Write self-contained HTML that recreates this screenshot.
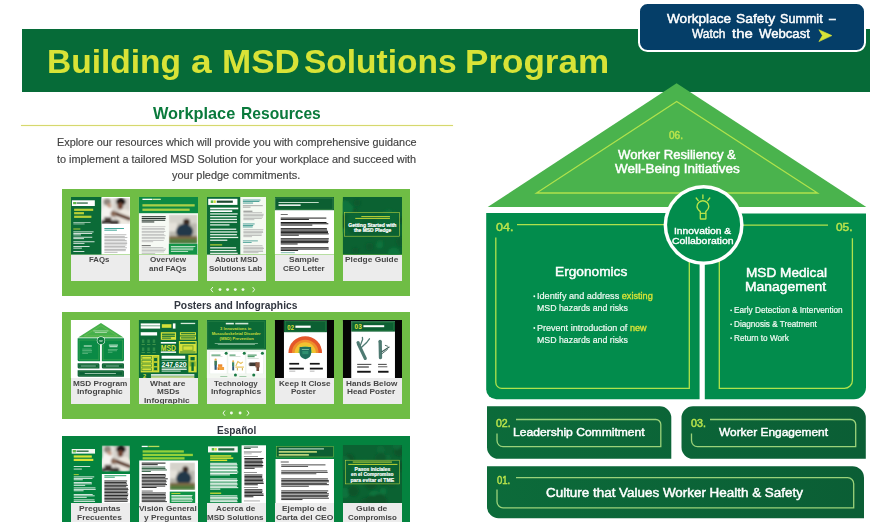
<!DOCTYPE html>
<html lang="en"><head><meta charset="utf-8"><title>Building a MSD Solutions Program</title>
<style>
html,body{margin:0;padding:0;background:#fff;}
body{width:870px;height:522px;overflow:hidden;font-family:"Liberation Sans",sans-serif;}
#page{position:relative;width:870px;height:522px;overflow:hidden;background:#fff;}
.t{position:absolute;white-space:nowrap;margin:0;padding:0;}
.abs{position:absolute;}
svg{position:absolute;left:0;top:0;overflow:visible;}

</style></head>
<body>
<div id="page">
<div class="abs" style="left:22px;top:29px;width:848px;height:62.7px;background:#066b38;"></div>
<div class="t" id="tw1" style="left:46.76px;top:46.20px;font-size:32.4px;line-height:32.4px;color:#d8e337;font-weight:bold;transform-origin:0 0;transform:scaleX(1.0349);">Building</div>
<div class="t" id="tw2" style="left:191.31px;top:46.20px;font-size:32.4px;line-height:32.4px;color:#d8e337;font-weight:bold;transform-origin:0 0;transform:scaleX(1.1461);">a</div>
<div class="t" id="tw3" style="left:221.95px;top:46.20px;font-size:32.4px;line-height:32.4px;color:#d8e337;font-weight:bold;transform-origin:0 0;transform:scaleX(1.0822);">MSD</div>
<div class="t" id="tw4" style="left:304.23px;top:46.20px;font-size:32.4px;line-height:32.4px;color:#d8e337;font-weight:bold;transform-origin:0 0;transform:scaleX(1.0342);">Solutions</div>
<div class="t" id="tw5" style="left:464.55px;top:46.20px;font-size:32.4px;line-height:32.4px;color:#d8e337;font-weight:bold;transform-origin:0 0;transform:scaleX(1.0824);">Program</div>
<div class="abs" id="btn" style="left:638px;top:2.3px;width:224px;height:45.6px;background:#053e68;border:2px solid #fff;border-radius:9.5px;"></div>
<div class="t" id="b1" style="left:666.54px;top:13.00px;font-size:12.8px;line-height:12.8px;color:#fff;font-weight:normal;transform-origin:0 0;transform:scaleX(1.0645);-webkit-text-stroke:0.45px #fff;">Workplace</div>
<div class="t" id="b2" style="left:735.87px;top:13.00px;font-size:12.8px;line-height:12.8px;color:#fff;font-weight:normal;transform-origin:0 0;transform:scaleX(1.0790);-webkit-text-stroke:0.45px #fff;">Safety</div>
<div class="t" id="b3" style="left:779.93px;top:13.00px;font-size:12.8px;line-height:12.8px;color:#fff;font-weight:normal;transform-origin:0 0;transform:scaleX(0.9835);-webkit-text-stroke:0.45px #fff;">Summit</div>
<div class="t" id="b4" style="left:829.30px;top:13.00px;font-size:12.8px;line-height:12.8px;color:#fff;font-weight:normal;transform-origin:0 0;transform:scaleX(0.9420);-webkit-text-stroke:0.45px #fff;">–</div>
<div class="t" id="b5" style="left:691.75px;top:28.40px;font-size:12.8px;line-height:12.8px;color:#fff;font-weight:normal;transform-origin:0 0;transform:scaleX(0.9354);-webkit-text-stroke:0.45px #fff;">Watch</div>
<div class="t" id="b6" style="left:731.97px;top:28.40px;font-size:12.8px;line-height:12.8px;color:#fff;font-weight:normal;transform-origin:0 0;transform:scaleX(1.1626);-webkit-text-stroke:0.45px #fff;">the</div>
<div class="t" id="b7" style="left:759.24px;top:28.40px;font-size:12.8px;line-height:12.8px;color:#fff;font-weight:normal;transform-origin:0 0;transform:scaleX(1.0273);-webkit-text-stroke:0.45px #fff;">Webcast</div>
<svg width="870" height="522" viewBox="0 0 870 522"><path d="M818.9 29.7 L831.9 35.6 L818.9 41.6 L822.4 35.6 Z" fill="#d8e337" stroke="#d8e337" stroke-width="0.6" stroke-linejoin="round"/></svg>

<div class="t" id="wr1" style="left:153.28px;top:104.55px;font-size:16.3px;line-height:16.3px;color:#0a7a3c;font-weight:bold;transform-origin:0 0;transform:scaleX(1.0030);">Workplace</div>
<div class="t" id="wr2" style="left:241.25px;top:104.55px;font-size:16.3px;line-height:16.3px;color:#0a7a3c;font-weight:bold;transform-origin:0 0;transform:scaleX(0.9584);">Resources</div>
<div class="abs" style="left:20.6px;top:124.7px;width:432.4px;height:1.5px;background:#d6d86e;box-shadow:0 0 1.5px #f2f0a0;"></div>
<div class="t" id="p1" style="left:57.11px;top:137.45px;font-size:10.5px;line-height:10.5px;color:#424242;font-weight:normal;transform-origin:0 0;transform:scaleX(1.0320);-webkit-text-stroke:0.15px #424242;">Explore our resources which will provide you with comprehensive guidance</div>
<div class="t" id="p2" style="left:57.24px;top:153.75px;font-size:10.5px;line-height:10.5px;color:#424242;font-weight:normal;transform-origin:0 0;transform:scaleX(1.0378);-webkit-text-stroke:0.15px #424242;">to implement a tailored MSD Solution for your workplace and succeed with</div>
<div class="t" id="p3" style="left:171.77px;top:170.25px;font-size:10.5px;line-height:10.5px;color:#424242;font-weight:normal;transform-origin:0 0;transform:scaleX(1.0413);-webkit-text-stroke:0.15px #424242;">your pledge commitments.</div>
<div class="abs" style="left:62.3px;top:188.5px;width:347.7px;height:107.3px;background:#6fbd45;"></div>
<div class="abs" style="left:62.3px;top:312.2px;width:347.7px;height:107px;background:#6fbd45;"></div>
<div class="abs" style="left:62.3px;top:436px;width:347.7px;height:90px;background:#04833f;"></div>
<div class="t" id="h2" style="left:174.31px;top:299.90px;font-size:10.6px;line-height:10.6px;color:#323741;font-weight:bold;transform-origin:0 0;transform:scaleX(0.9708);">Posters and Infographics</div>
<div class="t" id="h3" style="left:216.62px;top:425.30px;font-size:10.6px;line-height:10.6px;color:#323741;font-weight:bold;transform-origin:0 0;transform:scaleX(0.9530);">Español</div>
<div class="abs" style="left:70.7px;top:254.5px;width:59.3px;height:26px;background:#ececec;"></div>
<div class="abs" style="left:138.7px;top:254.5px;width:59.3px;height:26px;background:#ececec;"></div>
<div class="abs" style="left:206.7px;top:254.5px;width:59.3px;height:26px;background:#ececec;"></div>
<div class="abs" style="left:274.7px;top:254.5px;width:59.3px;height:26px;background:#ececec;"></div>
<div class="abs" style="left:342.7px;top:254.5px;width:59.3px;height:26px;background:#ececec;"></div>
<div class="abs" style="left:70.7px;top:378px;width:59.3px;height:26px;background:#ececec;"></div>
<div class="abs" style="left:138.7px;top:378px;width:59.3px;height:26px;background:#ececec;"></div>
<div class="abs" style="left:206.7px;top:378px;width:59.3px;height:26px;background:#ececec;"></div>
<div class="abs" style="left:274.7px;top:378px;width:59.3px;height:26px;background:#ececec;"></div>
<div class="abs" style="left:342.7px;top:378px;width:59.3px;height:26px;background:#ececec;"></div>
<div class="abs" style="left:70.7px;top:503px;width:59.3px;height:26px;background:#ececec;"></div>
<div class="abs" style="left:138.7px;top:503px;width:59.3px;height:26px;background:#ececec;"></div>
<div class="abs" style="left:206.7px;top:503px;width:59.3px;height:26px;background:#ececec;"></div>
<div class="abs" style="left:274.7px;top:503px;width:59.3px;height:26px;background:#ececec;"></div>
<div class="abs" style="left:342.7px;top:503px;width:59.3px;height:26px;background:#ececec;"></div>
<div class="t" id="l0" style="left:89.48px;top:256.45px;font-size:8.1px;line-height:8.1px;color:#464646;font-weight:bold;transform-origin:0 0;transform:scaleX(0.9649);">FAQs</div>
<div class="t" id="l1" style="left:149.67px;top:256.45px;font-size:8.1px;line-height:8.1px;color:#464646;font-weight:bold;transform-origin:0 0;transform:scaleX(1.0012);">Overview</div>
<div class="t" id="l2" style="left:148.51px;top:265.20px;font-size:8.1px;line-height:8.1px;color:#464646;font-weight:bold;transform-origin:0 0;transform:scaleX(0.9951);">and FAQs</div>
<div class="t" id="l3" style="left:214.80px;top:256.45px;font-size:8.1px;line-height:8.1px;color:#464646;font-weight:bold;transform-origin:0 0;transform:scaleX(0.9861);">About MSD</div>
<div class="t" id="l4" style="left:209.02px;top:265.20px;font-size:8.1px;line-height:8.1px;color:#464646;font-weight:bold;transform-origin:0 0;transform:scaleX(0.9956);">Solutions Lab</div>
<div class="t" id="l5" style="left:289.01px;top:256.45px;font-size:8.1px;line-height:8.1px;color:#464646;font-weight:bold;transform-origin:0 0;transform:scaleX(1.0423);">Sample</div>
<div class="t" id="l6" style="left:283.42px;top:265.20px;font-size:8.1px;line-height:8.1px;color:#464646;font-weight:bold;transform-origin:0 0;transform:scaleX(0.9856);">CEO Letter</div>
<div class="t" id="l7" style="left:344.94px;top:256.45px;font-size:8.1px;line-height:8.1px;color:#464646;font-weight:bold;transform-origin:0 0;transform:scaleX(1.0306);">Pledge Guide</div>
<div class="t" id="l8" style="left:73.20px;top:380.20px;font-size:8.1px;line-height:8.1px;color:#464646;font-weight:bold;transform-origin:0 0;transform:scaleX(1.0140);">MSD Program</div>
<div class="t" id="l9" style="left:76.94px;top:388.45px;font-size:8.1px;line-height:8.1px;color:#464646;font-weight:bold;transform-origin:0 0;transform:scaleX(1.0388);">Infographic</div>
<div class="t" id="l10" style="left:150.49px;top:380.20px;font-size:8.1px;line-height:8.1px;color:#464646;font-weight:bold;transform-origin:0 0;transform:scaleX(1.0391);">What are</div>
<div class="t" id="l11" style="left:156.96px;top:388.45px;font-size:8.1px;line-height:8.1px;color:#464646;font-weight:bold;transform-origin:0 0;transform:scaleX(1.0055);">MSDs</div>
<div class="t" id="l12" style="left:213.66px;top:380.20px;font-size:8.1px;line-height:8.1px;color:#464646;font-weight:bold;transform-origin:0 0;transform:scaleX(0.9764);">Technology</div>
<div class="t" id="l13" style="left:210.69px;top:388.45px;font-size:8.1px;line-height:8.1px;color:#464646;font-weight:bold;transform-origin:0 0;transform:scaleX(1.0318);">Infographics</div>
<div class="t" id="l14" style="left:278.71px;top:380.20px;font-size:8.1px;line-height:8.1px;color:#464646;font-weight:bold;transform-origin:0 0;transform:scaleX(1.0051);">Keep It Close</div>
<div class="t" id="l15" style="left:291.46px;top:388.45px;font-size:8.1px;line-height:8.1px;color:#464646;font-weight:bold;transform-origin:0 0;transform:scaleX(0.9880);">Poster</div>
<div class="t" id="l16" style="left:345.70px;top:380.20px;font-size:8.1px;line-height:8.1px;color:#464646;font-weight:bold;transform-origin:0 0;transform:scaleX(1.0083);">Hands Below</div>
<div class="t" id="l17" style="left:347.45px;top:388.45px;font-size:8.1px;line-height:8.1px;color:#464646;font-weight:bold;transform-origin:0 0;transform:scaleX(1.0193);">Head Poster</div>
<div class="t" id="l18" style="left:79.43px;top:505.05px;font-size:8.1px;line-height:8.1px;color:#464646;font-weight:bold;transform-origin:0 0;transform:scaleX(1.0455);">Preguntas</div>
<div class="t" id="l19" style="left:77.44px;top:513.55px;font-size:8.1px;line-height:8.1px;color:#464646;font-weight:bold;transform-origin:0 0;transform:scaleX(1.0391);">Frecuentes</div>
<div class="t" id="l20" style="left:139.44px;top:505.05px;font-size:8.1px;line-height:8.1px;color:#464646;font-weight:bold;transform-origin:0 0;transform:scaleX(1.0207);">Visión General</div>
<div class="t" id="l21" style="left:144.43px;top:513.55px;font-size:8.1px;line-height:8.1px;color:#464646;font-weight:bold;transform-origin:0 0;transform:scaleX(1.0278);">y Preguntas</div>
<div class="t" id="l22" style="left:216.05px;top:505.05px;font-size:8.1px;line-height:8.1px;color:#464646;font-weight:bold;transform-origin:0 0;transform:scaleX(1.0132);">Acerca de</div>
<div class="t" id="l23" style="left:207.46px;top:513.55px;font-size:8.1px;line-height:8.1px;color:#464646;font-weight:bold;transform-origin:0 0;transform:scaleX(0.9907);">MSD Solutions</div>
<div class="t" id="l24" style="left:281.94px;top:505.05px;font-size:8.1px;line-height:8.1px;color:#464646;font-weight:bold;transform-origin:0 0;transform:scaleX(1.0321);">Ejemplo de</div>
<div class="t" id="l25" style="left:275.90px;top:513.55px;font-size:8.1px;line-height:8.1px;color:#464646;font-weight:bold;transform-origin:0 0;transform:scaleX(1.0550);">Carta del CEO</div>
<div class="t" id="l26" style="left:355.90px;top:505.05px;font-size:8.1px;line-height:8.1px;color:#464646;font-weight:bold;transform-origin:0 0;transform:scaleX(1.0568);">Guia de</div>
<div class="t" id="l27" style="left:347.67px;top:513.55px;font-size:8.1px;line-height:8.1px;color:#464646;font-weight:bold;transform-origin:0 0;transform:scaleX(0.9786);">Compromiso</div>
<div class="abs" style="left:138.7px;top:378px;width:59.3px;height:26px;overflow:hidden;"><div class="t" id="lclip" style="left:5.74px;top:18.70px;font-size:8.1px;line-height:8.1px;color:#464646;font-weight:bold;transform-origin:0 0;transform:scaleX(1.0388);">Infographic</div>
</div>
<svg width="870" height="522" viewBox="0 0 870 522" fill="#fff" stroke="none"><circle cx="220" cy="289.6" r="1.45" opacity="0.9"/><circle cx="227.6" cy="289.6" r="1.45" opacity="0.9"/><circle cx="235.3" cy="289.6" r="1.45" opacity="0.9"/><circle cx="243" cy="289.6" r="1.45" opacity="0.9"/><path d="M212.9 287 L210.9 289.6 L212.9 292.2 M252.6 287 L254.6 289.6 L252.6 292.2" stroke="#fff" stroke-width="0.9" fill="none"/><circle cx="231.4" cy="413" r="1.45" opacity="0.9"/><circle cx="240.1" cy="413" r="1.45" opacity="0.9"/><path d="M225 410.5 L223 413.1 L225 415.7 M247 410.5 L249 413.1 L247 415.7" stroke="#fff" stroke-width="0.9" fill="none"/></svg>

<svg width="870" height="522" viewBox="0 0 870 522" font-family="Liberation Sans, sans-serif"><defs><filter id="bl1" x="-10%" y="-10%" width="120%" height="120%"><feGaussianBlur stdDeviation="0.9"/></filter><filter id="bl0"><feGaussianBlur stdDeviation="0.35"/></filter></defs>
<g transform="translate(70.7,197) scale(1.005,1)"><clipPath id="k10"><rect x="0" y="0" width="59" height="57.5"/></clipPath><g clip-path="url(#k10)"><rect x="0.00" y="0.00" width="59.00" height="58.00" fill="#fff" /><rect x="0.00" y="0.00" width="30.60" height="58.00" fill="#0b6b37" /><rect x="1.20" y="3.30" width="22.80" height="5.70" fill="#fff" /><rect x="2.40" y="5.00" width="3.20" height="2.20" fill="#5cb946" /><rect x="6.00" y="5.40" width="11.00" height="1.30" fill="#2d6b45" /><rect x="3.40" y="11.70" width="19.00" height="2.20" fill="#d8e337" opacity="0.85"/><rect x="3.40" y="15.10" width="9.80" height="2.20" fill="#d8e337" opacity="0.85"/><rect x="3.40" y="18.70" width="17.20" height="2.20" fill="#d8e337" opacity="0.85"/><rect x="2.60" y="25.00" width="17.21" height="0.70" fill="#cfe6d6" opacity="1.0"/><rect x="2.60" y="26.60" width="11.23" height="0.70" fill="#cfe6d6" opacity="1.0"/><rect x="2.60" y="31.60" width="7.00" height="0.80" fill="#d8e337" /><rect x="2.60" y="34.50" width="20.18" height="0.80" fill="#fff" opacity="1.0"/><rect x="2.60" y="36.00" width="18.76" height="0.80" fill="#fff" opacity="1.0"/><rect x="2.60" y="37.50" width="7.61" height="0.80" fill="#fff" opacity="1.0"/><rect x="2.60" y="39.80" width="18.85" height="0.80" fill="#fff" opacity="1.0"/><rect x="2.60" y="41.30" width="10.68" height="0.80" fill="#fff" opacity="1.0"/><rect x="2.60" y="44.40" width="21.10" height="0.80" fill="#fff" opacity="1.0"/><rect x="2.60" y="45.90" width="11.12" height="0.80" fill="#fff" opacity="1.0"/><rect x="2.60" y="49.20" width="16.19" height="0.80" fill="#fff" opacity="1.0"/><rect x="2.60" y="50.70" width="8.52" height="0.80" fill="#fff" opacity="1.0"/><rect x="2.60" y="54.20" width="11.00" height="0.80" fill="#fff" /><g transform="translate(30.6,1)"><clipPath id="c10p"><rect width="28.4" height="26"/></clipPath><g clip-path="url(#c10p)" filter="url(#bl1)"><rect x="0.00" y="0.00" width="28.40" height="26.00" fill="#d6d2cc" /><rect x="0.00" y="0.00" width="11.36" height="26.00" fill="#e9e7e2" /><ellipse cx="5.68" cy="3.9" rx="3.6919999999999997" ry="3.38" fill="#8f857c"/><ellipse cx="7.668" cy="7.8" rx="2.272" ry="2.6" fill="#c29a84"/><ellipse cx="5.111999999999999" cy="18.2" rx="6.816" ry="9.36" fill="#f5f3ef"/><ellipse cx="19.312" cy="3.6400000000000006" rx="4.828" ry="3.9" fill="#1f1512"/><ellipse cx="18.744" cy="8.06" rx="2.84" ry="3.38" fill="#6e4230"/><ellipse cx="22.72" cy="18.72" rx="7.3839999999999995" ry="7.8" fill="#ece7df"/><path d="M11.36 14.560000000000002 L27.831999999999997 20.8" stroke="#5a3524" stroke-width="3.38" stroke-linecap="round"/><ellipse cx="11.927999999999999" cy="16.12" rx="2.84" ry="2.6" fill="#8a6a58"/><rect x="0.00" y="22.36" width="17.61" height="3.64" fill="#2f2622" /><rect x="2.84" y="19.24" width="7.10" height="3.64" fill="#4a3c36" /></g></g><rect x="33.50" y="31.00" width="19.48" height="0.90" fill="#2a9a8c" opacity="1.0"/><rect x="33.50" y="32.70" width="12.49" height="0.90" fill="#2a9a8c" opacity="1.0"/><rect x="33.50" y="37.50" width="21.91" height="0.65" fill="#9a9a9a" opacity="1.0"/><rect x="33.50" y="38.95" width="20.31" height="0.65" fill="#9a9a9a" opacity="1.0"/><rect x="33.50" y="40.40" width="22.87" height="0.65" fill="#9a9a9a" opacity="1.0"/><rect x="33.50" y="41.85" width="20.63" height="0.65" fill="#9a9a9a" opacity="1.0"/><rect x="33.50" y="43.30" width="22.20" height="0.65" fill="#9a9a9a" opacity="1.0"/><rect x="33.50" y="44.75" width="22.60" height="0.65" fill="#9a9a9a" opacity="1.0"/><rect x="33.50" y="46.20" width="22.67" height="0.65" fill="#9a9a9a" opacity="1.0"/><rect x="33.50" y="47.65" width="22.15" height="0.65" fill="#9a9a9a" opacity="1.0"/><rect x="33.50" y="49.10" width="20.75" height="0.65" fill="#9a9a9a" opacity="1.0"/><rect x="33.50" y="50.55" width="22.50" height="0.65" fill="#9a9a9a" opacity="1.0"/><rect x="33.50" y="52.00" width="21.39" height="0.65" fill="#9a9a9a" opacity="1.0"/><rect x="33.50" y="53.45" width="21.24" height="0.65" fill="#9a9a9a" opacity="1.0"/><rect x="33.50" y="54.90" width="13.09" height="0.65" fill="#9a9a9a" opacity="1.0"/></g></g>
<g transform="translate(138.7,197) scale(1.005,1)"><clipPath id="k11"><rect x="0" y="0" width="59" height="57.5"/></clipPath><g clip-path="url(#k11)"><rect x="0.00" y="0.00" width="59.00" height="58.00" fill="#f6faf4" /><rect x="0.00" y="0.00" width="59.00" height="16.20" fill="#0c8a43" /><rect x="3.70" y="1.70" width="10.00" height="1.30" fill="#fff" /><rect x="14.00" y="1.70" width="8.00" height="1.30" fill="#cfe6a0" /><rect x="3.70" y="7.20" width="52.00" height="2.30" fill="#cfe04a" opacity="0.8"/><rect x="3.70" y="11.60" width="47.00" height="2.30" fill="#cfe04a" opacity="0.8"/><rect x="3.00" y="19.20" width="23.82" height="1.00" fill="#1d2b24" opacity="1.0"/><rect x="3.00" y="20.95" width="23.83" height="1.00" fill="#1d2b24" opacity="1.0"/><rect x="3.00" y="22.70" width="23.41" height="1.00" fill="#1d2b24" opacity="1.0"/><rect x="3.00" y="24.45" width="12.50" height="1.00" fill="#1d2b24" opacity="1.0"/><rect x="3.00" y="29.50" width="23.58" height="0.60" fill="#a7a7a7" opacity="1.0"/><rect x="3.00" y="31.00" width="22.78" height="0.60" fill="#a7a7a7" opacity="1.0"/><rect x="3.00" y="32.50" width="23.17" height="0.60" fill="#a7a7a7" opacity="1.0"/><rect x="3.00" y="34.00" width="23.62" height="0.60" fill="#a7a7a7" opacity="1.0"/><rect x="3.00" y="35.50" width="22.16" height="0.60" fill="#a7a7a7" opacity="1.0"/><rect x="3.00" y="37.00" width="22.44" height="0.60" fill="#a7a7a7" opacity="1.0"/><rect x="3.00" y="38.50" width="23.78" height="0.60" fill="#a7a7a7" opacity="1.0"/><rect x="3.00" y="40.00" width="22.81" height="0.60" fill="#a7a7a7" opacity="1.0"/><rect x="3.00" y="41.50" width="22.96" height="0.60" fill="#a7a7a7" opacity="1.0"/><rect x="3.00" y="43.00" width="21.93" height="0.60" fill="#a7a7a7" opacity="1.0"/><rect x="3.00" y="44.50" width="11.40" height="0.60" fill="#a7a7a7" opacity="1.0"/><rect x="3.00" y="48.30" width="9.00" height="0.80" fill="#444" /><rect x="3.00" y="50.30" width="21.62" height="0.60" fill="#a7a7a7" opacity="1.0"/><rect x="3.00" y="51.75" width="24.15" height="0.60" fill="#a7a7a7" opacity="1.0"/><rect x="3.00" y="53.20" width="23.27" height="0.60" fill="#a7a7a7" opacity="1.0"/><rect x="3.00" y="54.65" width="22.27" height="0.60" fill="#a7a7a7" opacity="1.0"/><rect x="3.00" y="56.10" width="13.37" height="0.60" fill="#a7a7a7" opacity="1.0"/><g transform="translate(30,17.7)"><clipPath id="c11p"><rect width="28.4" height="29"/></clipPath><g clip-path="url(#c11p)" filter="url(#bl1)"><rect x="0.00" y="0.00" width="28.40" height="29.00" fill="#b9b7ae" /><rect x="0.00" y="0.00" width="28.40" height="8.70" fill="#d5d3cb" /><rect x="0.00" y="8.12" width="8.52" height="8.70" fill="#e5e2da" /><ellipse cx="17.608" cy="7.25" rx="3.408" ry="3.19" fill="#3a2a22"/><ellipse cx="15.620000000000001" cy="16.82" rx="8.52" ry="7.54" fill="#24384a"/><rect x="0.00" y="21.46" width="28.40" height="7.54" fill="#7d6a45" /><rect x="0.00" y="24.36" width="28.40" height="4.64" fill="#4f7a3e" /></g></g><rect x="30.00" y="46.70" width="28.40" height="11.30" fill="#129347" /><rect x="32.00" y="49.00" width="24.38" height="0.80" fill="#dff2e2" opacity="1.0"/><rect x="32.00" y="50.70" width="22.54" height="0.80" fill="#dff2e2" opacity="1.0"/><rect x="32.00" y="52.40" width="22.25" height="0.80" fill="#dff2e2" opacity="1.0"/><rect x="32.00" y="54.10" width="17.15" height="0.80" fill="#dff2e2" opacity="1.0"/></g></g>
<g transform="translate(206.7,197) scale(1.005,1)"><clipPath id="k12"><rect x="0" y="0" width="59" height="57.5"/></clipPath><g clip-path="url(#k12)"><rect x="0.00" y="0.00" width="59.00" height="58.00" fill="#f4f9f2" /><rect x="0.00" y="0.00" width="33.40" height="58.00" fill="#0b6b37" /><rect x="1.50" y="1.80" width="29.10" height="6.10" fill="#fff" /><rect x="4.00" y="3.40" width="2.60" height="2.60" fill="#5cb946" /><rect x="7.00" y="3.40" width="2.00" height="2.60" fill="#d8e337" /><rect x="10.00" y="3.60" width="16.00" height="2.20" fill="#1d4a30" /><rect x="3.40" y="10.60" width="28.00" height="1.70" fill="#fff" /><rect x="3.40" y="13.30" width="22.00" height="1.70" fill="#fff" /><rect x="3.40" y="16.30" width="27.39" height="1.25" fill="#e6f3e9" opacity="1.0"/><rect x="3.40" y="19.05" width="26.54" height="1.25" fill="#e6f3e9" opacity="1.0"/><rect x="3.40" y="21.80" width="26.76" height="1.25" fill="#e6f3e9" opacity="1.0"/><rect x="3.40" y="24.55" width="26.80" height="1.25" fill="#e6f3e9" opacity="1.0"/><rect x="3.40" y="27.30" width="19.28" height="1.25" fill="#e6f3e9" opacity="1.0"/><rect x="3.40" y="31.60" width="25.98" height="1.25" fill="#e6f3e9" opacity="1.0"/><rect x="3.40" y="34.35" width="27.03" height="1.25" fill="#e6f3e9" opacity="1.0"/><rect x="3.40" y="37.10" width="26.61" height="1.25" fill="#e6f3e9" opacity="1.0"/><rect x="3.40" y="39.85" width="27.96" height="1.25" fill="#e6f3e9" opacity="1.0"/><rect x="3.40" y="42.60" width="17.11" height="1.25" fill="#e6f3e9" opacity="1.0"/><rect x="3.40" y="47.40" width="12.00" height="1.00" fill="#d8e337" /><rect x="3.40" y="50.20" width="25.87" height="1.25" fill="#e6f3e9" opacity="1.0"/><rect x="3.40" y="52.95" width="26.25" height="1.25" fill="#e6f3e9" opacity="1.0"/><rect x="3.40" y="55.70" width="27.46" height="1.25" fill="#e6f3e9" opacity="1.0"/><rect x="36.00" y="2.60" width="17.53" height="0.90" fill="#3f9a8f" opacity="1.0"/><rect x="36.00" y="4.10" width="16.46" height="0.90" fill="#3f9a8f" opacity="1.0"/><rect x="36.00" y="5.60" width="10.16" height="0.90" fill="#3f9a8f" opacity="1.0"/><rect x="36.00" y="8.50" width="19.81" height="0.60" fill="#777" opacity="1.0"/><rect x="36.00" y="9.80" width="7.66" height="0.60" fill="#777" opacity="1.0"/><rect x="36.50" y="13.80" width="9.00" height="0.70" fill="#555" /><rect x="36.50" y="15.50" width="18.61" height="0.60" fill="#9b9b9b" opacity="1.0"/><rect x="36.50" y="16.90" width="20.18" height="0.60" fill="#9b9b9b" opacity="1.0"/><rect x="36.50" y="18.30" width="19.89" height="0.60" fill="#9b9b9b" opacity="1.0"/><rect x="36.50" y="19.70" width="19.54" height="0.60" fill="#9b9b9b" opacity="1.0"/><rect x="36.50" y="21.10" width="18.36" height="0.60" fill="#9b9b9b" opacity="1.0"/><rect x="36.50" y="22.50" width="10.86" height="0.60" fill="#9b9b9b" opacity="1.0"/><rect x="36.00" y="26.50" width="11.69" height="0.90" fill="#3f9a8f" opacity="1.0"/><rect x="36.00" y="28.00" width="10.29" height="0.90" fill="#3f9a8f" opacity="1.0"/><rect x="36.00" y="29.50" width="9.74" height="0.90" fill="#3f9a8f" opacity="1.0"/><rect x="36.50" y="32.50" width="19.82" height="0.60" fill="#9b9b9b" opacity="1.0"/><rect x="36.50" y="33.90" width="19.48" height="0.60" fill="#9b9b9b" opacity="1.0"/><rect x="36.50" y="35.30" width="19.62" height="0.60" fill="#9b9b9b" opacity="1.0"/><rect x="36.50" y="36.70" width="18.32" height="0.60" fill="#9b9b9b" opacity="1.0"/><rect x="36.50" y="38.10" width="18.14" height="0.60" fill="#9b9b9b" opacity="1.0"/><rect x="36.50" y="39.50" width="8.62" height="0.60" fill="#9b9b9b" opacity="1.0"/><rect x="36.00" y="43.50" width="14.89" height="0.80" fill="#3f9a8f" opacity="1.0"/><rect x="36.00" y="45.00" width="8.70" height="0.80" fill="#3f9a8f" opacity="1.0"/><rect x="36.50" y="48.50" width="19.05" height="0.60" fill="#9b9b9b" opacity="1.0"/><rect x="36.50" y="49.90" width="19.85" height="0.60" fill="#9b9b9b" opacity="1.0"/><rect x="36.50" y="51.30" width="20.49" height="0.60" fill="#9b9b9b" opacity="1.0"/><rect x="36.50" y="52.70" width="19.47" height="0.60" fill="#9b9b9b" opacity="1.0"/><rect x="36.50" y="54.10" width="19.59" height="0.60" fill="#9b9b9b" opacity="1.0"/><rect x="36.50" y="55.50" width="14.99" height="0.60" fill="#9b9b9b" opacity="1.0"/></g></g>
<g transform="translate(274.7,197) scale(1.005,1)"><clipPath id="k13"><rect x="0" y="0" width="59" height="57.5"/></clipPath><g clip-path="url(#k13)"><rect x="0.00" y="0.00" width="59.00" height="58.00" fill="#fff" /><rect x="0.00" y="0.00" width="59.00" height="13.20" fill="#0c5f32" /><rect x="1.00" y="1.00" width="57.00" height="11.20" fill="none" stroke="#4f9a55" stroke-width="0.5"/><rect x="3.80" y="5.00" width="40.00" height="0.90" fill="#d5ead9" /><rect x="3.80" y="7.40" width="22.00" height="1.50" fill="#fff" /><rect x="6.00" y="17.20" width="7.00" height="0.70" fill="#333" /><rect x="6.00" y="20.60" width="45.38" height="0.95" fill="#111" opacity="1.0"/><rect x="6.00" y="21.90" width="28.06" height="0.95" fill="#111" opacity="1.0"/><rect x="6.00" y="25.00" width="45.57" height="0.95" fill="#111" opacity="1.0"/><rect x="6.00" y="26.30" width="47.35" height="0.95" fill="#111" opacity="1.0"/><rect x="6.00" y="27.60" width="31.44" height="0.95" fill="#111" opacity="1.0"/><rect x="6.00" y="31.20" width="45.90" height="0.95" fill="#111" opacity="1.0"/><rect x="6.00" y="32.50" width="46.09" height="0.95" fill="#111" opacity="1.0"/><rect x="6.00" y="33.80" width="47.06" height="0.95" fill="#111" opacity="1.0"/><rect x="6.00" y="35.10" width="47.04" height="0.95" fill="#111" opacity="1.0"/><rect x="6.00" y="36.40" width="47.75" height="0.95" fill="#111" opacity="1.0"/><rect x="6.00" y="37.70" width="18.00" height="0.95" fill="#111" opacity="1.0"/><rect x="6.00" y="41.30" width="47.84" height="0.95" fill="#111" opacity="1.0"/><rect x="6.00" y="42.60" width="47.50" height="0.95" fill="#111" opacity="1.0"/><rect x="6.00" y="43.90" width="47.61" height="0.95" fill="#111" opacity="1.0"/><rect x="6.00" y="45.20" width="47.18" height="0.95" fill="#111" opacity="1.0"/><rect x="6.00" y="46.50" width="16.80" height="0.95" fill="#111" opacity="1.0"/><rect x="6.00" y="50.30" width="47.64" height="0.95" fill="#111" opacity="1.0"/><rect x="6.00" y="51.60" width="47.76" height="0.95" fill="#111" opacity="1.0"/><rect x="6.00" y="52.90" width="17.29" height="0.95" fill="#111" opacity="1.0"/><rect x="6.00" y="55.50" width="14.00" height="0.60" fill="#2a8a7a" /></g></g>
<g transform="translate(342.7,197) scale(1.005,1)"><clipPath id="k14"><rect x="0" y="0" width="59" height="57.5"/></clipPath><g clip-path="url(#k14)"><rect x="0.00" y="0.00" width="59.00" height="58.00" fill="#0b6232" /><g filter="url(#bl1)"><circle cx="26.7" cy="32.5" r="7.6" fill="#0a5a2f"/><circle cx="26.7" cy="49.6" r="3.9" fill="#0a5a2f"/><circle cx="37.2" cy="46.0" r="3.5" fill="#0d6a37"/><circle cx="8.4" cy="31.2" r="7.5" fill="#10733c"/><circle cx="35.1" cy="23.0" r="5.3" fill="#09552b"/><circle cx="36.8" cy="48.2" r="3.3" fill="#10733c"/><circle cx="11.2" cy="14.0" r="3.2" fill="#0a5a2f"/><circle cx="19.3" cy="34.3" r="4.0" fill="#09552b"/><circle cx="37.8" cy="29.0" r="6.3" fill="#0a5a2f"/><circle cx="38.6" cy="23.6" r="5.8" fill="#10733c"/><circle cx="41.8" cy="18.3" r="4.1" fill="#0d6a37"/><circle cx="1.8" cy="32.7" r="3.5" fill="#10733c"/><circle cx="49.9" cy="22.4" r="7.8" fill="#10733c"/><circle cx="12.6" cy="53.8" r="3.3" fill="#0a5a2f"/><circle cx="57.8" cy="23.1" r="3.4" fill="#09552b"/><circle cx="45.9" cy="15.6" r="3.4" fill="#0d6a37"/><circle cx="0.9" cy="23.8" r="7.6" fill="#09552b"/><circle cx="14.5" cy="5.9" r="3.3" fill="#0a5a2f"/><circle cx="10.5" cy="32.4" r="5.2" fill="#09552b"/><circle cx="58.1" cy="44.6" r="5.1" fill="#0a5a2f"/><circle cx="6.9" cy="24.4" r="4.1" fill="#0d6a37"/><circle cx="51.0" cy="56.5" r="6.0" fill="#10733c"/><circle cx="12.4" cy="22.9" r="7.3" fill="#10733c"/><circle cx="2.5" cy="8.5" r="5.2" fill="#10733c"/><circle cx="45.6" cy="19.1" r="4.5" fill="#10733c"/><circle cx="4.4" cy="12.1" r="6.2" fill="#10733c"/></g><rect x="2.00" y="15.30" width="54.70" height="23.90" fill="#0b6232" stroke="#c4d944" stroke-width="0.55" fill-opacity="0.7"/><rect x="18.50" y="19.20" width="28.50" height="0.90" fill="#d8e337" /><rect x="12.50" y="20.90" width="34.50" height="0.90" fill="#d8e337" /><text x="29.5" y="29.8" font-size="5.7" font-weight="bold" fill="#fff" stroke="#fff" stroke-width="0.25" text-anchor="middle" textLength="48" lengthAdjust="spacingAndGlyphs">Getting Started with</text><text x="29.7" y="35.3" font-size="5.7" font-weight="bold" fill="#fff" stroke="#fff" stroke-width="0.25" text-anchor="middle" textLength="37" lengthAdjust="spacingAndGlyphs">the MSD Pledge</text></g></g>
<g transform="translate(70.7,320) scale(1.005,1)"><clipPath id="k20"><rect x="0" y="0" width="59" height="58"/></clipPath><g clip-path="url(#k20)"><rect x="0.00" y="0.00" width="59.00" height="58.00" fill="#fff" /><polygon points="30.1,3.1 52.6,17.5 7.4,17.5" fill="#46b04c"/><polygon points="30.1,5.6 46.5,15.9 13.6,15.9" fill="none" stroke="#b8dc5a" stroke-width="0.25"/><rect x="22.50" y="10.60" width="15.00" height="0.70" fill="#e8f6e4" opacity="0.8"/><rect x="24.00" y="12.00" width="12.00" height="0.70" fill="#e8f6e4" opacity="0.8"/><path d="M6.9 18.3 H29.2 V41.2 H8.4 A1.5 1.5 0 0 1 6.9 39.7 Z" fill="#0a8a45"/><path d="M31 18.3 H53 V39.7 A1.5 1.5 0 0 1 51.5 41.2 H31 Z" fill="#0a8a45"/><path d="M8.4 20 H28 V39.8 H9.4 A1 1 0 0 1 8.4 38.8 Z" fill="none" stroke="#9fd66a" stroke-width="0.25"/><path d="M32.3 20 H51.6 V38.8 A1 1 0 0 1 50.6 39.8 H32.3 Z" fill="none" stroke="#9fd66a" stroke-width="0.25"/><circle cx="30.1" cy="20.6" r="4.1" fill="#fff"/><circle cx="30.1" cy="20.6" r="3.6" fill="#0a7a3c"/><rect x="28.20" y="20.30" width="3.80" height="0.50" fill="#dff2e2" /><rect x="28.60" y="21.40" width="3.00" height="0.50" fill="#dff2e2" /><rect x="13.00" y="25.50" width="8.00" height="1.00" fill="#d5efdc" /><rect x="38.00" y="24.60" width="9.00" height="1.00" fill="#d5efdc" /><rect x="38.50" y="26.20" width="8.00" height="1.00" fill="#d5efdc" /><rect x="11.50" y="28.80" width="9.24" height="0.50" fill="#8fd0a2" opacity="1.0"/><rect x="11.50" y="30.30" width="9.72" height="0.50" fill="#8fd0a2" opacity="1.0"/><rect x="11.50" y="31.80" width="9.55" height="0.50" fill="#8fd0a2" opacity="1.0"/><rect x="11.50" y="33.30" width="5.71" height="0.50" fill="#8fd0a2" opacity="1.0"/><rect x="37.00" y="29.30" width="9.74" height="0.50" fill="#8fd0a2" opacity="1.0"/><rect x="37.00" y="30.60" width="9.09" height="0.50" fill="#8fd0a2" opacity="1.0"/><rect x="37.00" y="31.90" width="4.53" height="0.50" fill="#8fd0a2" opacity="1.0"/><path d="M6.9 43.3 H27.2 A1.4 1.4 0 0 1 28.6 44.7 V48.6 H8.3 A1.4 1.4 0 0 1 6.9 47.2 Z" fill="#0c6237"/><path d="M32.4 43.3 H52 A1 1 0 0 1 53 44.3 V48.6 H32.4 A1.4 1.4 0 0 1 31 47.2 V44.7 A1.4 1.4 0 0 1 32.4 43.3 Z" fill="#0c6237"/><path d="M6.9 50.2 H51.6 A1.4 1.4 0 0 1 53 51.6 V56.8 H8.3 A1.4 1.4 0 0 1 6.9 55.4 Z" fill="#0c6237"/><rect x="10.00" y="45.70" width="15.00" height="0.60" fill="#cfe8d6" /><rect x="35.00" y="45.70" width="13.00" height="0.60" fill="#cfe8d6" /><rect x="14.00" y="53.20" width="31.00" height="0.70" fill="#cfe8d6" /><rect x="8.20" y="44.40" width="19.00" height="3.20" fill="none" stroke="#7fc36a" stroke-width="0.2" rx="0.8"/><rect x="32.40" y="44.40" width="19.40" height="3.20" fill="none" stroke="#7fc36a" stroke-width="0.2" rx="0.8"/><rect x="8.20" y="51.40" width="43.50" height="4.20" fill="none" stroke="#7fc36a" stroke-width="0.2" rx="0.8"/></g></g>
<g transform="translate(138.7,320) scale(1.005,1)"><clipPath id="k21"><rect x="0" y="0" width="59" height="58"/></clipPath><g clip-path="url(#k21)"><rect x="0.00" y="0.00" width="59.00" height="58.00" fill="#0b6b37" /><rect x="2.00" y="3.40" width="19.30" height="2.20" fill="#fff" /><rect x="2.00" y="6.20" width="19.30" height="2.40" fill="#fff" /><rect x="23.00" y="4.20" width="9.50" height="3.60" fill="#d2e03a" /><rect x="34.00" y="3.40" width="2.60" height="5.20" fill="#fff" /><rect x="41.80" y="2.80" width="14.40" height="1.30" fill="#d5ead9" /><rect x="2.00" y="12.20" width="16.30" height="3.30" fill="#fff" /><rect x="22.00" y="12.20" width="15.20" height="7.60" fill="#d2e03a" /><rect x="23.20" y="13.60" width="12.80" height="1.20" fill="#0b6b37" /><rect x="23.20" y="15.60" width="12.80" height="1.20" fill="#0b6b37" /><rect x="23.20" y="17.60" width="9.00" height="1.00" fill="#0b6b37" /><rect x="41.00" y="12.20" width="16.00" height="3.20" fill="#d2e03a" /><rect x="41.00" y="16.40" width="16.00" height="3.20" fill="#d2e03a" /><rect x="42.00" y="13.20" width="14.00" height="1.00" fill="#0b6b37" /><rect x="42.00" y="17.40" width="14.00" height="1.00" fill="#0b6b37" /><rect x="3.20" y="19.50" width="2.40" height="3.40" fill="#3f9a50" opacity="0.7"/><rect x="2.80" y="24.00" width="3.40" height="0.60" fill="#9fd66a" opacity="0.6"/><rect x="3.20" y="27.50" width="2.40" height="3.40" fill="#3f9a50" opacity="0.7"/><rect x="2.80" y="32.00" width="3.40" height="0.60" fill="#9fd66a" opacity="0.6"/><rect x="8.60" y="19.50" width="2.40" height="3.40" fill="#3f9a50" opacity="0.7"/><rect x="8.20" y="24.00" width="3.40" height="0.60" fill="#9fd66a" opacity="0.6"/><rect x="8.60" y="27.50" width="2.40" height="3.40" fill="#3f9a50" opacity="0.7"/><rect x="8.20" y="32.00" width="3.40" height="0.60" fill="#9fd66a" opacity="0.6"/><rect x="14.00" y="19.50" width="2.40" height="3.40" fill="#3f9a50" opacity="0.7"/><rect x="13.60" y="24.00" width="3.40" height="0.60" fill="#9fd66a" opacity="0.6"/><rect x="14.00" y="27.50" width="2.40" height="3.40" fill="#3f9a50" opacity="0.7"/><rect x="13.60" y="32.00" width="3.40" height="0.60" fill="#9fd66a" opacity="0.6"/><rect x="22.00" y="22.00" width="15.20" height="1.60" fill="#fff" /><text x="29.6" y="30.6" font-size="8.2" font-weight="bold" fill="#d2e03a" text-anchor="middle" textLength="15.2" lengthAdjust="spacingAndGlyphs">MSD</text><rect x="22.00" y="31.40" width="15.20" height="1.50" fill="#fff" /><rect x="40.00" y="21.00" width="17.70" height="12.40" fill="#d2e03a" /><rect x="41.20" y="22.20" width="15.30" height="1.60" fill="#0b6b37" /><rect x="43.50" y="25.30" width="11.00" height="5.50" fill="#7fae2e" /><rect x="44.50" y="26.40" width="9.00" height="3.40" fill="#d2e03a" /><rect x="41.20" y="31.60" width="15.30" height="0.80" fill="#0b6b37" /><rect x="2.00" y="35.00" width="18.50" height="17.40" fill="#d2e03a" /><rect x="3.20" y="36.30" width="9.50" height="2.80" fill="none" stroke="#0b6b37" stroke-width="0.5"/><rect x="3.20" y="40.20" width="9.50" height="2.80" fill="none" stroke="#0b6b37" stroke-width="0.5"/><rect x="3.20" y="44.10" width="9.50" height="2.80" fill="none" stroke="#0b6b37" stroke-width="0.5"/><rect x="3.20" y="48.00" width="9.50" height="2.80" fill="none" stroke="#0b6b37" stroke-width="0.5"/><rect x="14.30" y="36.30" width="5.00" height="14.80" fill="#aac52f" /><rect x="15.30" y="38.00" width="3.00" height="3.00" fill="#0b6b37" /><rect x="15.30" y="43.00" width="3.00" height="3.00" fill="#0b6b37" /><rect x="15.30" y="47.50" width="3.00" height="2.60" fill="#0b6b37" /><rect x="22.80" y="35.70" width="23.50" height="3.00" fill="#fff" /><text x="35.3" y="46.6" font-size="7.2" font-weight="bold" fill="#fff" text-anchor="middle" textLength="25" lengthAdjust="spacingAndGlyphs">247,620</text><rect x="22.80" y="40.20" width="25.00" height="0.45" fill="#d5ead9" /><rect x="22.80" y="47.40" width="25.00" height="0.45" fill="#d5ead9" /><rect x="22.80" y="48.60" width="25.00" height="1.20" fill="#fff" /><rect x="22.80" y="50.60" width="19.00" height="1.00" fill="#d5ead9" /><rect x="49.40" y="35.00" width="8.30" height="17.40" fill="#d2e03a" /><rect x="51.50" y="37.00" width="4.20" height="3.40" fill="#0b6b37" /><rect x="50.60" y="41.40" width="6.00" height="5.00" fill="#7fae2e" /><rect x="52.40" y="42.40" width="2.40" height="8.50" fill="#0b6b37" /><text x="4.4" y="57.8" font-size="5.6" font-weight="bold" fill="#d2e03a">2</text><rect x="12.20" y="54.20" width="43.20" height="1.50" fill="#fff" /><rect x="12.20" y="56.30" width="43.20" height="1.50" fill="#e9f0a0" /></g></g>
<g transform="translate(206.7,320) scale(1.005,1)"><clipPath id="k22"><rect x="0" y="0" width="59" height="58"/></clipPath><g clip-path="url(#k22)"><rect x="0.00" y="0.00" width="59.00" height="58.00" fill="#f3f7f1" /><rect x="0.00" y="0.00" width="59.00" height="29.60" fill="#0c6a36" /><rect x="1.20" y="1.20" width="56.60" height="27.20" fill="none" stroke="#3f9450" stroke-width="0.35"/><rect x="19.00" y="2.80" width="8.00" height="1.60" fill="#e6f3e8" /><rect x="28.40" y="2.80" width="13.00" height="1.60" fill="#cfe6d6" /><text x="28.9" y="10.2" font-size="3.9" font-weight="bold" fill="#c9de3e" text-anchor="middle" textLength="31.1" lengthAdjust="spacingAndGlyphs">3 Innovations in</text><text x="29.3" y="15.3" font-size="3.9" font-weight="bold" fill="#c9de3e" text-anchor="middle" textLength="48.6" lengthAdjust="spacingAndGlyphs">Musculoskeletal Disorder</text><text x="29.8" y="20.1" font-size="3.9" font-weight="bold" fill="#c9de3e" text-anchor="middle" textLength="34.1" lengthAdjust="spacingAndGlyphs">(MSD) Prevention</text><rect x="8.00" y="23.00" width="43.00" height="0.55" fill="#bfe0c8" /><rect x="11.00" y="24.40" width="37.00" height="0.55" fill="#bfe0c8" /><rect x="3.20" y="31.40" width="17.00" height="22.50" fill="#fff" stroke="#dbe9dc" stroke-width="0.3"/><circle cx="19.4" cy="33.3" r="1.5" fill="#1a7a44"/><rect x="4.70" y="34.60" width="9.00" height="1.00" fill="#2d8a4e" /><rect x="4.70" y="36.50" width="11.00" height="0.40" fill="#9fb8a6" /><rect x="21.20" y="31.40" width="17.00" height="22.50" fill="#fff" stroke="#dbe9dc" stroke-width="0.3"/><circle cx="37.4" cy="33.3" r="1.5" fill="#1a7a44"/><rect x="22.70" y="34.60" width="6.00" height="1.00" fill="#2d8a4e" /><rect x="22.70" y="36.50" width="11.00" height="0.40" fill="#9fb8a6" /><rect x="39.20" y="31.40" width="17.00" height="22.50" fill="#fff" stroke="#dbe9dc" stroke-width="0.3"/><circle cx="55.400000000000006" cy="33.3" r="1.5" fill="#1a7a44"/><rect x="40.70" y="34.60" width="9.00" height="1.00" fill="#2d8a4e" /><rect x="40.70" y="36.20" width="7.00" height="1.00" fill="#2d8a4e" /><rect x="40.70" y="38.10" width="11.00" height="0.40" fill="#9fb8a6" /><g filter="url(#bl0)"><rect x="7.60" y="40.60" width="2.60" height="4.60" fill="#3f7a5a" /><rect x="7.80" y="45.00" width="2.20" height="4.80" fill="#2f5a78" /><circle cx="8.9" cy="39.6" r="1.1" fill="#e9b04a"/><rect x="11.30" y="44.30" width="4.20" height="2.60" fill="#ee8c2e" /><rect x="12.30" y="47.00" width="5.00" height="3.00" fill="#f2a03a" /><rect x="10.80" y="47.20" width="1.60" height="2.80" fill="#e07a22" /><rect x="25.20" y="42.20" width="2.20" height="4.20" fill="#3f8a68" /><rect x="25.40" y="46.20" width="1.90" height="4.20" fill="#2f5a78" /><circle cx="26.3" cy="41.2" r="1.0" fill="#e9b04a"/><path d="M29 46 L31 41.5 L34 43.5 L36 41.8" stroke="#e8c15a" stroke-width="1.1" fill="none"/><rect x="28.50" y="46.50" width="8.50" height="1.20" fill="#e8c15a" /><rect x="30.00" y="48.00" width="1.00" height="2.40" fill="#c9a84a" /><rect x="35.00" y="48.00" width="1.00" height="2.40" fill="#c9a84a" /><rect x="42.50" y="42.50" width="7.50" height="3.60" fill="#3d3a36" /><rect x="48.50" y="42.20" width="4.20" height="5.20" fill="#8a5a44" /><rect x="49.50" y="47.00" width="2.60" height="4.00" fill="#70493a" /><rect x="41.80" y="43.20" width="1.40" height="2.20" fill="#6a6a6a" /></g><circle cx="28.6" cy="54.9" r="1.5" fill="#1a7a44"/><circle cx="46.8" cy="54.9" r="1.5" fill="#1a7a44"/><rect x="13.50" y="56.20" width="7.00" height="0.60" fill="#6fae7c" /><rect x="32.50" y="56.20" width="7.00" height="0.60" fill="#6fae7c" /></g></g>
<g transform="translate(274.7,320) scale(1.005,1)"><clipPath id="k23"><rect x="0" y="0" width="59" height="58"/></clipPath><g clip-path="url(#k23)"><rect x="0.00" y="0.00" width="59.00" height="58.00" fill="#fff" /><rect x="0.00" y="0.00" width="9.20" height="58.00" fill="#050505" /><rect x="52.00" y="0.00" width="7.00" height="58.00" fill="#050505" /><rect x="0.00" y="0.00" width="59.00" height="0.80" fill="#050505" /><rect x="9.20" y="0.80" width="42.80" height="11.40" fill="#0c5f32" /><rect x="10.40" y="1.80" width="40.40" height="9.30" fill="none" stroke="#3f9450" stroke-width="0.3"/><text x="12.6" y="9.7" font-size="7.2" font-weight="bold" fill="#d8e337" textLength="6.6" lengthAdjust="spacingAndGlyphs">02</text><rect x="20.60" y="5.60" width="15.20" height="2.20" fill="#fff" /><path d="M13.7 32.9 A16.7 16.7 0 0 1 47.099999999999994 32.9 Z" fill="#e4572a"/><path d="M17.2 32.9 A13.2 13.2 0 0 1 43.599999999999994 32.9 Z" fill="#ef8f2c"/><path d="M19.799999999999997 32.9 A10.6 10.6 0 0 1 41.0 32.9 Z" fill="#f0c330"/><path d="M23.4 32.9 A7 7 0 0 1 37.4 32.9 Z" fill="#8cc24a"/><path d="M24.8 27 H36.2 V33.6 Q36.2 37.6 30.5 39.2 Q24.8 37.6 24.8 33.6 Z" fill="#1f6f5c"/><rect x="27.00" y="29.00" width="7.00" height="0.80" fill="#8cd0a8" /><rect x="27.50" y="31.00" width="6.00" height="3.20" fill="#2f8f6f" /><rect x="14.50" y="42.90" width="9.80" height="1.70" fill="#151515" /><rect x="35.00" y="42.90" width="9.80" height="1.70" fill="#151515" /><rect x="14.50" y="47.70" width="14.50" height="1.80" fill="#151515" /><rect x="35.00" y="47.70" width="12.90" height="1.80" fill="#151515" /><rect x="14.50" y="50.80" width="6.00" height="0.60" fill="#888" /><rect x="35.00" y="50.80" width="4.60" height="0.60" fill="#888" /></g></g>
<g transform="translate(342.7,320) scale(1.005,1)"><clipPath id="k24"><rect x="0" y="0" width="59" height="58"/></clipPath><g clip-path="url(#k24)"><rect x="0.00" y="0.00" width="59.00" height="58.00" fill="#fff" /><rect x="0.00" y="0.00" width="8.50" height="58.00" fill="#050505" /><rect x="52.00" y="0.00" width="7.00" height="58.00" fill="#050505" /><rect x="0.00" y="0.00" width="59.00" height="1.20" fill="#050505" /><rect x="8.50" y="1.20" width="43.50" height="10.40" fill="#0c5f32" /><rect x="9.60" y="2.20" width="41.20" height="8.40" fill="none" stroke="#3f9450" stroke-width="0.3"/><text x="11.8" y="9.2" font-size="7" font-weight="bold" fill="#d8e337" textLength="7.2" lengthAdjust="spacingAndGlyphs">03</text><rect x="20.60" y="5.20" width="20.70" height="2.00" fill="#fff" /><g fill="none" stroke-linecap="round" filter="url(#bl0)"><path d="M15.6 24 L22.5 38.5" stroke="#4f7a72" stroke-width="3.1"/><path d="M17.5 25.5 L19.8 19.5 L19.6 17.3" stroke="#4f7a72" stroke-width="1.3"/><path d="M18.8 27.2 L23.8 22.6 L26.6 18.8" stroke="#4f7a72" stroke-width="1.3"/><circle cx="15.3" cy="22.6" r="1.6" fill="#4f7a72" stroke="none"/><path d="M37.3 22.5 L37.6 37.6" stroke="#4f7a72" stroke-width="3.3"/><circle cx="37.2" cy="21.4" r="1.7" fill="#4f7a72" stroke="none"/><path d="M39 31.8 L46.2 27" stroke="#3c5f58" stroke-width="1.1"/><path d="M39 33.8 L44.5 29.5" stroke="#3c5f58" stroke-width="0.9"/><path d="M42.4 25.4 L44.6 26.2" stroke="#3c5f58" stroke-width="0.9"/></g><rect x="14.40" y="43.90" width="14.10" height="0.80" fill="#151515" /><rect x="14.40" y="46.50" width="11.60" height="1.00" fill="#151515" /><rect x="35.20" y="43.90" width="8.60" height="0.80" fill="#151515" /><rect x="35.20" y="46.50" width="9.20" height="0.70" fill="#151515" /><rect x="14.40" y="50.80" width="13.50" height="1.90" fill="#151515" /><rect x="35.20" y="50.80" width="10.40" height="1.90" fill="#151515" /></g></g>
<g transform="translate(70.7,445) scale(1.005,1)"><clipPath id="k30"><rect x="0" y="0" width="59" height="58"/></clipPath><g clip-path="url(#k30)"><rect x="1.00" y="4.00" width="23.20" height="4.60" fill="#f4f7f2" /><rect x="2.00" y="5.00" width="3.20" height="2.40" fill="#5cb946" /><rect x="5.80" y="5.50" width="12.00" height="1.40" fill="#2d6b45" /><rect x="3.00" y="10.40" width="18.00" height="2.20" fill="#d8e337" /><rect x="3.00" y="13.80" width="19.50" height="2.20" fill="#d8e337" /><rect x="3.00" y="21.00" width="16.36" height="0.90" fill="#e0f0e4" opacity="1.0"/><rect x="3.00" y="23.60" width="8.10" height="0.90" fill="#e0f0e4" opacity="1.0"/><rect x="3.00" y="29.30" width="5.00" height="0.80" fill="#d8e337" /><rect x="3.00" y="31.50" width="20.40" height="0.80" fill="#fff" opacity="1.0"/><rect x="3.00" y="32.95" width="18.67" height="0.80" fill="#fff" opacity="1.0"/><rect x="3.00" y="34.40" width="9.00" height="0.80" fill="#fff" opacity="1.0"/><rect x="3.00" y="37.00" width="17.82" height="0.80" fill="#fff" opacity="1.0"/><rect x="3.00" y="38.45" width="18.12" height="0.80" fill="#fff" opacity="1.0"/><rect x="3.00" y="39.90" width="11.41" height="0.80" fill="#fff" opacity="1.0"/><rect x="3.00" y="42.50" width="21.66" height="0.80" fill="#fff" opacity="1.0"/><rect x="3.00" y="43.95" width="21.87" height="0.80" fill="#fff" opacity="1.0"/><rect x="3.00" y="45.40" width="9.80" height="0.80" fill="#fff" opacity="1.0"/><rect x="3.00" y="49.00" width="18.90" height="0.80" fill="#fff" opacity="1.0"/><rect x="3.00" y="50.45" width="20.87" height="0.80" fill="#fff" opacity="1.0"/><rect x="3.00" y="51.90" width="12.95" height="0.80" fill="#fff" opacity="1.0"/><rect x="3.00" y="54.50" width="20.71" height="0.80" fill="#fff" opacity="1.0"/><rect x="3.00" y="55.95" width="21.23" height="0.80" fill="#fff" opacity="1.0"/><g transform="translate(31,0.5)"><clipPath id="c30p"><rect width="28" height="26"/></clipPath><g clip-path="url(#c30p)" filter="url(#bl1)"><rect x="0.00" y="0.00" width="28.00" height="26.00" fill="#d6d2cc" /><rect x="0.00" y="0.00" width="11.20" height="26.00" fill="#e9e7e2" /><ellipse cx="5.6000000000000005" cy="3.9" rx="3.64" ry="3.38" fill="#8f857c"/><ellipse cx="7.5600000000000005" cy="7.8" rx="2.24" ry="2.6" fill="#c29a84"/><ellipse cx="5.04" cy="18.2" rx="6.72" ry="9.36" fill="#f5f3ef"/><ellipse cx="19.040000000000003" cy="3.6400000000000006" rx="4.760000000000001" ry="3.9" fill="#1f1512"/><ellipse cx="18.48" cy="8.06" rx="2.8000000000000003" ry="3.38" fill="#6e4230"/><ellipse cx="22.400000000000002" cy="18.72" rx="7.28" ry="7.8" fill="#ece7df"/><path d="M11.200000000000001 14.560000000000002 L27.439999999999998 20.8" stroke="#5a3524" stroke-width="3.38" stroke-linecap="round"/><ellipse cx="11.76" cy="16.12" rx="2.8000000000000003" ry="2.6" fill="#8a6a58"/><rect x="0.00" y="22.36" width="17.36" height="3.64" fill="#2f2622" /><rect x="2.80" y="19.24" width="7.00" height="3.64" fill="#4a3c36" /></g></g><rect x="31.00" y="29.00" width="28.50" height="29.00" fill="#fff" /><rect x="33.50" y="30.20" width="21.81" height="1.00" fill="#2aa56a" opacity="1.0"/><rect x="33.50" y="31.70" width="10.37" height="1.00" fill="#2aa56a" opacity="1.0"/><rect x="33.50" y="35.50" width="22.66" height="0.95" fill="#222" opacity="1.0"/><rect x="33.50" y="36.95" width="21.95" height="0.95" fill="#222" opacity="1.0"/><rect x="33.50" y="38.40" width="22.53" height="0.95" fill="#222" opacity="1.0"/><rect x="33.50" y="39.85" width="23.33" height="0.95" fill="#222" opacity="1.0"/><rect x="33.50" y="41.30" width="21.80" height="0.95" fill="#222" opacity="1.0"/><rect x="33.50" y="42.75" width="23.51" height="0.95" fill="#222" opacity="1.0"/><rect x="33.50" y="44.20" width="23.96" height="0.95" fill="#222" opacity="1.0"/><rect x="33.50" y="45.65" width="23.35" height="0.95" fill="#222" opacity="1.0"/><rect x="33.50" y="47.10" width="22.93" height="0.95" fill="#222" opacity="1.0"/><rect x="33.50" y="48.55" width="23.85" height="0.95" fill="#222" opacity="1.0"/><rect x="33.50" y="50.00" width="23.58" height="0.95" fill="#222" opacity="1.0"/><rect x="33.50" y="51.45" width="23.11" height="0.95" fill="#222" opacity="1.0"/><rect x="33.50" y="52.90" width="22.63" height="0.95" fill="#222" opacity="1.0"/><rect x="33.50" y="54.35" width="23.68" height="0.95" fill="#222" opacity="1.0"/><rect x="33.50" y="55.80" width="23.13" height="0.95" fill="#222" opacity="1.0"/></g></g>
<g transform="translate(138.7,445) scale(1.005,1)"><clipPath id="k31"><rect x="0" y="0" width="59" height="58"/></clipPath><g clip-path="url(#k31)"><rect x="3.00" y="0.80" width="6.00" height="1.30" fill="#fff" /><rect x="9.50" y="0.80" width="11.00" height="1.30" fill="#b8dc5a" /><rect x="3.90" y="5.30" width="41.00" height="2.30" fill="#a4d93a" opacity="0.9"/><rect x="3.90" y="8.80" width="50.00" height="2.30" fill="#a4d93a" opacity="0.9"/><rect x="3.90" y="12.20" width="41.70" height="2.30" fill="#a4d93a" opacity="0.9"/><rect x="0.50" y="15.50" width="58.50" height="43.00" fill="#fff" /><rect x="3.00" y="17.60" width="23.68" height="1.00" fill="#1a1a1a" opacity="1.0"/><rect x="3.00" y="19.20" width="15.93" height="1.00" fill="#1a1a1a" opacity="1.0"/><rect x="3.00" y="21.60" width="23.38" height="0.90" fill="#26583a" opacity="1.0"/><rect x="3.00" y="23.05" width="23.71" height="0.90" fill="#26583a" opacity="1.0"/><rect x="3.00" y="24.50" width="25.07" height="0.90" fill="#26583a" opacity="1.0"/><rect x="3.00" y="25.95" width="9.11" height="0.90" fill="#26583a" opacity="1.0"/><rect x="3.00" y="29.00" width="23.63" height="0.95" fill="#2a2a2a" opacity="1.0"/><rect x="3.00" y="30.45" width="24.18" height="0.95" fill="#2a2a2a" opacity="1.0"/><rect x="3.00" y="31.90" width="23.50" height="0.95" fill="#2a2a2a" opacity="1.0"/><rect x="3.00" y="33.35" width="25.94" height="0.95" fill="#2a2a2a" opacity="1.0"/><rect x="3.00" y="34.80" width="24.35" height="0.95" fill="#2a2a2a" opacity="1.0"/><rect x="3.00" y="36.25" width="24.75" height="0.95" fill="#2a2a2a" opacity="1.0"/><rect x="3.00" y="37.70" width="24.10" height="0.95" fill="#2a2a2a" opacity="1.0"/><rect x="3.00" y="39.15" width="25.17" height="0.95" fill="#2a2a2a" opacity="1.0"/><rect x="3.00" y="40.60" width="23.40" height="0.95" fill="#2a2a2a" opacity="1.0"/><rect x="3.00" y="42.05" width="14.78" height="0.95" fill="#2a2a2a" opacity="1.0"/><rect x="3.00" y="45.60" width="11.00" height="0.90" fill="#555" /><rect x="3.00" y="47.50" width="24.08" height="0.95" fill="#2a2a2a" opacity="1.0"/><rect x="3.00" y="48.95" width="23.66" height="0.95" fill="#2a2a2a" opacity="1.0"/><rect x="3.00" y="50.40" width="24.08" height="0.95" fill="#2a2a2a" opacity="1.0"/><rect x="3.00" y="51.85" width="24.17" height="0.95" fill="#2a2a2a" opacity="1.0"/><rect x="3.00" y="53.30" width="23.94" height="0.95" fill="#2a2a2a" opacity="1.0"/><rect x="3.00" y="54.75" width="23.62" height="0.95" fill="#2a2a2a" opacity="1.0"/><rect x="3.00" y="56.20" width="25.09" height="0.95" fill="#2a2a2a" opacity="1.0"/><g transform="translate(30.9,17.5)"><clipPath id="c31p"><rect width="25.3" height="27.5"/></clipPath><g clip-path="url(#c31p)" filter="url(#bl1)"><rect x="0.00" y="0.00" width="25.30" height="27.50" fill="#b9b7ae" /><rect x="0.00" y="0.00" width="25.30" height="8.25" fill="#d5d3cb" /><rect x="0.00" y="7.70" width="7.59" height="8.25" fill="#e5e2da" /><ellipse cx="15.686" cy="6.875" rx="3.036" ry="3.025" fill="#3a2a22"/><ellipse cx="13.915000000000001" cy="15.95" rx="7.59" ry="7.15" fill="#24384a"/><rect x="0.00" y="20.35" width="25.30" height="7.15" fill="#7d6a45" /><rect x="0.00" y="23.10" width="25.30" height="4.40" fill="#4f7a3e" /></g></g><rect x="30.90" y="46.60" width="25.30" height="12.00" fill="#129347" /><rect x="32.50" y="48.20" width="9.00" height="0.80" fill="#d8e337" /><rect x="32.50" y="50.00" width="20.96" height="0.90" fill="#e8f6ea" opacity="1.0"/><rect x="32.50" y="51.45" width="20.47" height="0.90" fill="#e8f6ea" opacity="1.0"/><rect x="32.50" y="52.90" width="20.54" height="0.90" fill="#e8f6ea" opacity="1.0"/><rect x="32.50" y="54.35" width="21.56" height="0.90" fill="#e8f6ea" opacity="1.0"/><rect x="32.50" y="55.80" width="20.72" height="0.90" fill="#e8f6ea" opacity="1.0"/></g></g>
<g transform="translate(206.7,445) scale(1.005,1)"><clipPath id="k32"><rect x="0" y="0" width="59" height="58"/></clipPath><g clip-path="url(#k32)"><rect x="1.30" y="1.40" width="29.60" height="6.00" fill="#f4f7f2" /><rect x="5.00" y="3.00" width="2.60" height="2.60" fill="#5cb946" /><rect x="8.00" y="3.00" width="2.00" height="2.60" fill="#d8e337" /><rect x="11.50" y="3.20" width="16.00" height="2.40" fill="#2d6b45" /><rect x="3.40" y="10.20" width="21.00" height="1.50" fill="#d8e337" /><rect x="3.40" y="12.40" width="23.00" height="1.50" fill="#d8e337" /><rect x="3.40" y="14.60" width="17.00" height="1.50" fill="#d8e337" /><rect x="3.40" y="17.80" width="26.64" height="0.95" fill="#fff" opacity="1.0"/><rect x="3.40" y="19.25" width="27.13" height="0.95" fill="#fff" opacity="1.0"/><rect x="3.40" y="20.70" width="27.05" height="0.95" fill="#fff" opacity="1.0"/><rect x="3.40" y="22.15" width="27.46" height="0.95" fill="#fff" opacity="1.0"/><rect x="3.40" y="23.60" width="27.12" height="0.95" fill="#fff" opacity="1.0"/><rect x="3.40" y="25.05" width="27.07" height="0.95" fill="#fff" opacity="1.0"/><rect x="3.40" y="26.50" width="27.96" height="0.95" fill="#fff" opacity="1.0"/><rect x="3.40" y="27.95" width="27.02" height="0.95" fill="#fff" opacity="1.0"/><rect x="3.40" y="29.40" width="19.72" height="0.95" fill="#fff" opacity="1.0"/><rect x="3.40" y="33.50" width="26.87" height="0.95" fill="#fff" opacity="1.0"/><rect x="3.40" y="34.95" width="27.45" height="0.95" fill="#fff" opacity="1.0"/><rect x="3.40" y="36.40" width="26.86" height="0.95" fill="#fff" opacity="1.0"/><rect x="3.40" y="37.85" width="27.12" height="0.95" fill="#fff" opacity="1.0"/><rect x="3.40" y="39.30" width="27.36" height="0.95" fill="#fff" opacity="1.0"/><rect x="3.40" y="40.75" width="26.69" height="0.95" fill="#fff" opacity="1.0"/><rect x="3.40" y="42.20" width="27.96" height="0.95" fill="#fff" opacity="1.0"/><rect x="3.40" y="43.65" width="10.17" height="0.95" fill="#fff" opacity="1.0"/><rect x="3.40" y="47.60" width="11.00" height="1.20" fill="#d8e337" /><rect x="3.40" y="50.40" width="27.09" height="0.95" fill="#fff" opacity="1.0"/><rect x="3.40" y="51.85" width="27.29" height="0.95" fill="#fff" opacity="1.0"/><rect x="3.40" y="53.30" width="27.71" height="0.95" fill="#fff" opacity="1.0"/><rect x="3.40" y="54.75" width="26.92" height="0.95" fill="#fff" opacity="1.0"/><rect x="3.40" y="56.20" width="27.26" height="0.95" fill="#fff" opacity="1.0"/><rect x="34.70" y="0.30" width="24.50" height="58.00" fill="#fff" /><rect x="37.00" y="1.60" width="14.08" height="0.90" fill="#1e4a32" opacity="1.0"/><rect x="37.00" y="3.05" width="6.78" height="0.90" fill="#1e4a32" opacity="1.0"/><rect x="37.00" y="6.00" width="17.97" height="0.60" fill="#888" opacity="1.0"/><rect x="37.00" y="7.30" width="17.19" height="0.60" fill="#888" opacity="1.0"/><rect x="37.00" y="8.60" width="7.76" height="0.60" fill="#888" opacity="1.0"/><rect x="37.00" y="11.30" width="14.00" height="0.70" fill="#666" /><rect x="37.50" y="13.00" width="19.17" height="0.95" fill="#1a1a1a" opacity="1.0"/><rect x="37.50" y="14.40" width="17.73" height="0.95" fill="#1a1a1a" opacity="1.0"/><rect x="37.50" y="15.80" width="18.21" height="0.95" fill="#1a1a1a" opacity="1.0"/><rect x="37.50" y="17.20" width="18.64" height="0.95" fill="#1a1a1a" opacity="1.0"/><rect x="37.50" y="18.60" width="17.76" height="0.95" fill="#1a1a1a" opacity="1.0"/><rect x="37.50" y="20.00" width="18.86" height="0.95" fill="#1a1a1a" opacity="1.0"/><rect x="37.50" y="21.40" width="18.20" height="0.95" fill="#1a1a1a" opacity="1.0"/><rect x="37.50" y="22.80" width="10.19" height="0.95" fill="#1a1a1a" opacity="1.0"/><rect x="37.00" y="27.30" width="13.00" height="0.70" fill="#666" /><rect x="37.50" y="29.50" width="17.93" height="0.95" fill="#1a1a1a" opacity="1.0"/><rect x="37.50" y="30.90" width="17.72" height="0.95" fill="#1a1a1a" opacity="1.0"/><rect x="37.50" y="32.30" width="17.78" height="0.95" fill="#1a1a1a" opacity="1.0"/><rect x="37.50" y="33.70" width="18.75" height="0.95" fill="#1a1a1a" opacity="1.0"/><rect x="37.50" y="35.10" width="18.36" height="0.95" fill="#1a1a1a" opacity="1.0"/><rect x="37.50" y="36.50" width="18.88" height="0.95" fill="#1a1a1a" opacity="1.0"/><rect x="37.50" y="37.90" width="19.23" height="0.95" fill="#1a1a1a" opacity="1.0"/><rect x="37.50" y="39.30" width="13.35" height="0.95" fill="#1a1a1a" opacity="1.0"/><rect x="37.00" y="42.30" width="14.00" height="0.70" fill="#666" /><rect x="37.50" y="44.30" width="17.84" height="0.95" fill="#1a1a1a" opacity="1.0"/><rect x="37.50" y="45.70" width="18.11" height="0.95" fill="#1a1a1a" opacity="1.0"/><rect x="37.50" y="47.10" width="17.65" height="0.95" fill="#1a1a1a" opacity="1.0"/><rect x="37.50" y="48.50" width="18.96" height="0.95" fill="#1a1a1a" opacity="1.0"/><rect x="37.50" y="49.90" width="19.17" height="0.95" fill="#1a1a1a" opacity="1.0"/><rect x="37.50" y="51.30" width="8.97" height="0.95" fill="#1a1a1a" opacity="1.0"/><rect x="37.00" y="55.60" width="16.00" height="0.70" fill="#888" /></g></g>
<g transform="translate(274.7,445) scale(1.005,1)"><clipPath id="k33"><rect x="0" y="0" width="59" height="58"/></clipPath><g clip-path="url(#k33)"><rect x="0.80" y="14.00" width="58.20" height="44.00" fill="#fff" /><rect x="2.00" y="1.40" width="56.50" height="10.60" fill="#0c5f32" stroke="#9bc84a" stroke-width="0.45"/><rect x="4.00" y="3.40" width="45.00" height="1.00" fill="#d5ead9" /><rect x="4.00" y="6.20" width="38.00" height="1.40" fill="#e3ee8a" /><rect x="4.00" y="9.20" width="30.00" height="1.40" fill="#e3ee8a" /><rect x="6.00" y="16.60" width="8.00" height="0.80" fill="#333" /><rect x="6.50" y="19.50" width="44.02" height="0.80" fill="#222" opacity="1.0"/><rect x="6.50" y="20.95" width="26.71" height="0.80" fill="#222" opacity="1.0"/><rect x="6.50" y="25.50" width="45.84" height="0.80" fill="#222" opacity="1.0"/><rect x="6.50" y="26.95" width="46.26" height="0.80" fill="#222" opacity="1.0"/><rect x="6.50" y="28.40" width="34.91" height="0.80" fill="#222" opacity="1.0"/><rect x="6.50" y="33.50" width="46.43" height="0.85" fill="#111" opacity="1.0"/><rect x="6.50" y="34.95" width="47.32" height="0.85" fill="#111" opacity="1.0"/><rect x="6.50" y="36.40" width="47.43" height="0.85" fill="#111" opacity="1.0"/><rect x="6.50" y="37.85" width="45.43" height="0.85" fill="#111" opacity="1.0"/><rect x="6.50" y="39.30" width="47.40" height="0.85" fill="#111" opacity="1.0"/><rect x="6.50" y="40.75" width="27.47" height="0.85" fill="#111" opacity="1.0"/><rect x="6.50" y="45.50" width="46.77" height="0.85" fill="#111" opacity="1.0"/><rect x="6.50" y="46.95" width="45.62" height="0.85" fill="#111" opacity="1.0"/><rect x="6.50" y="48.40" width="47.45" height="0.85" fill="#111" opacity="1.0"/><rect x="6.50" y="49.85" width="47.18" height="0.85" fill="#111" opacity="1.0"/><rect x="6.50" y="51.30" width="46.42" height="0.85" fill="#111" opacity="1.0"/><rect x="6.50" y="52.75" width="47.44" height="0.85" fill="#111" opacity="1.0"/><rect x="6.50" y="54.20" width="21.14" height="0.85" fill="#111" opacity="1.0"/></g></g>
<g transform="translate(342.7,445) scale(1.005,1)"><clipPath id="k34"><rect x="0" y="0" width="59" height="58"/></clipPath><g clip-path="url(#k34)"><rect x="0.00" y="0.00" width="59.00" height="58.00" fill="#0b6232" /><g filter="url(#bl1)"><circle cx="28.0" cy="38.1" r="6.3" fill="#09552b"/><circle cx="22.5" cy="57.8" r="5.4" fill="#0a5a2f"/><circle cx="40.7" cy="34.9" r="5.8" fill="#09552b"/><circle cx="57.7" cy="21.3" r="4.7" fill="#09552b"/><circle cx="3.5" cy="47.5" r="3.4" fill="#0d6a37"/><circle cx="40.2" cy="46.3" r="3.4" fill="#10733c"/><circle cx="48.4" cy="38.4" r="4.1" fill="#0a5a2f"/><circle cx="55.9" cy="6.5" r="5.1" fill="#09552b"/><circle cx="31.8" cy="51.2" r="5.8" fill="#10733c"/><circle cx="32.8" cy="29.4" r="3.4" fill="#0a5a2f"/><circle cx="39.4" cy="27.2" r="6.0" fill="#10733c"/><circle cx="37.8" cy="4.8" r="4.0" fill="#0d6a37"/><circle cx="21.0" cy="21.1" r="6.5" fill="#0d6a37"/><circle cx="6.7" cy="13.6" r="4.8" fill="#09552b"/><circle cx="1.7" cy="47.7" r="5.2" fill="#10733c"/><circle cx="13.1" cy="24.8" r="4.9" fill="#10733c"/><circle cx="44.4" cy="12.8" r="3.4" fill="#0d6a37"/><circle cx="2.2" cy="16.0" r="4.7" fill="#10733c"/><circle cx="30.3" cy="21.4" r="4.7" fill="#0a5a2f"/><circle cx="28.1" cy="55.6" r="5.4" fill="#09552b"/><circle cx="27.4" cy="31.8" r="3.9" fill="#09552b"/><circle cx="53.8" cy="0.4" r="4.3" fill="#0d6a37"/><circle cx="10.6" cy="46.1" r="5.5" fill="#09552b"/><circle cx="36.5" cy="57.1" r="8.0" fill="#09552b"/><circle cx="1.4" cy="18.7" r="6.9" fill="#0d6a37"/><circle cx="37.7" cy="13.3" r="5.6" fill="#0a5a2f"/></g><rect x="3.00" y="15.20" width="53.60" height="23.70" fill="#0b6232" stroke="#c4d944" stroke-width="0.55" fill-opacity="0.7"/><rect x="10.00" y="16.60" width="39.00" height="0.90" fill="#d8e337" /><rect x="5.50" y="18.90" width="49.00" height="0.90" fill="#d8e337" /><text x="29.6" y="25.9" font-size="5.4" font-weight="bold" fill="#fff" stroke="#fff" stroke-width="0.2" text-anchor="middle" textLength="35.5" lengthAdjust="spacingAndGlyphs">Pasos iniciales</text><text x="29.4" y="31.4" font-size="5.4" font-weight="bold" fill="#fff" stroke="#fff" stroke-width="0.2" text-anchor="middle" textLength="42.3" lengthAdjust="spacingAndGlyphs">en el Compromiso</text><text x="29.4" y="36.8" font-size="5.4" font-weight="bold" fill="#fff" stroke="#fff" stroke-width="0.2" text-anchor="middle" textLength="43.5" lengthAdjust="spacingAndGlyphs">para evitar el TME</text></g></g>
</svg>

<svg width="870" height="522" viewBox="0 0 870 522" fill="none">
<defs><linearGradient id="bxg" gradientUnits="userSpaceOnUse" x1="487" y1="0" x2="866" y2="0"><stop offset="0" stop-color="#0c6b3a"/><stop offset="1" stop-color="#0b5e35"/></linearGradient></defs>
<polygon points="676.6,83.3 866.3,207 487.7,207" fill="#4ab34d"/>
<polygon points="676.7,101.5 817.5,193 536.5,193" stroke="#b0e24c" stroke-width="1.3"/>
<path d="M486.2 212.9 H699.6 V399.3 H496.2 A10 10 0 0 1 486.2 389.3 Z" fill="#028c4c"/>
<path d="M704.8 213.5 H866 V387.3 A12 12 0 0 1 854 399.3 H704.8 Z" fill="#028c4c"/>
<path d="M517 224.7 H668" stroke="#b0e24c" stroke-width="1.3"/>
<path d="M495.8 237.5 V382.4 A6 6 0 0 0 501.8 388.4 H689.3 V255" stroke="#b0e24c" stroke-width="1.3"/>
<path d="M738 225.2 H828" stroke="#b0e24c" stroke-width="1.3"/>
<path d="M852.4 238.3 V380.4 A8 8 0 0 1 844.4 388.4 H719.3 V255" stroke="#b0e24c" stroke-width="1.3"/>
<circle cx="703.6" cy="225" r="40" fill="#fff"/>
<circle cx="703.6" cy="225" r="36.5" fill="#028c4c"/>
<g stroke="#b9e24a" stroke-width="1.35" stroke-linecap="round" stroke-linejoin="round"><path d="M700.3 213.2 V211.6 Q697 209.2 697 206.6 A5.9 5.9 0 0 1 708.8 206.6 Q708.8 209.2 705.8 211.6 V213.2"/><rect x="700.3" y="213.4" width="5.6" height="5.6" rx="0.6"/><path d="M702.9 198.6 V195 M698.2 200.6 L696.2 198 M707.8 200.6 L709.8 198"/></g>
<path d="M487 406.3 H659.8 A11.5 11.5 0 0 1 671.3 417.8 V458.8 H498.5 A11.5 11.5 0 0 1 487 447.3 Z" fill="url(#bxg)"/>
<path d="M693 406.3 H854.3 A11.5 11.5 0 0 1 865.8 417.8 V458.8 H693 A11.5 11.5 0 0 1 681.5 447.3 V417.8 A11.5 11.5 0 0 1 693 406.3 Z" fill="url(#bxg)"/>
<path d="M487 466.2 H852.5 A11.5 11.5 0 0 1 864 477.7 V518.2 H498.5 A11.5 11.5 0 0 1 487 506.8 Z" fill="url(#bxg)"/>
<path d="M516 419.5 H655.8 A5 5 0 0 1 660.8 424.5 V446.6 H503 A6 6 0 0 1 497 440.6 V433.5" stroke="#9bd27a" stroke-width="1.3"/>
<path d="M710 419.5 H850.7 A5 5 0 0 1 855.7 424.5 V446.6 H697.5 A6 6 0 0 1 691.5 440.6 V433.5" stroke="#9bd27a" stroke-width="1.3"/>
<path d="M516 477.7 H847.7 A6 6 0 0 1 853.7 483.7 V507.8 H503 A6 6 0 0 1 497 501.8 V489.4" stroke="#9bd27a" stroke-width="1.3"/>
</svg>

<div class="t" id="n06" style="left:669.11px;top:131.40px;font-size:10.2px;line-height:10.2px;color:#b9e34c;font-weight:normal;transform-origin:0 0;transform:scaleX(0.9884);-webkit-text-stroke:0.45px #b9e34c;">06.</div>
<div class="t" id="n04" style="left:495.51px;top:222.05px;font-size:11.5px;line-height:11.5px;color:#b9e34c;font-weight:normal;transform-origin:0 0;transform:scaleX(1.0906);-webkit-text-stroke:0.45px #b9e34c;">04.</div>
<div class="t" id="n05" style="left:835.53px;top:222.05px;font-size:11.5px;line-height:11.5px;color:#b9e34c;font-weight:normal;transform-origin:0 0;transform:scaleX(1.0354);-webkit-text-stroke:0.45px #b9e34c;">05.</div>
<div class="t" id="n02" style="left:496.19px;top:417.50px;font-size:10.6px;line-height:10.6px;color:#b9e34c;font-weight:normal;transform-origin:0 0;transform:scaleX(0.9960);-webkit-text-stroke:0.45px #b9e34c;">02.</div>
<div class="t" id="n03" style="left:691.08px;top:417.50px;font-size:10.6px;line-height:10.6px;color:#b9e34c;font-weight:normal;transform-origin:0 0;transform:scaleX(1.0110);-webkit-text-stroke:0.45px #b9e34c;">03.</div>
<div class="t" id="n01" style="left:497.13px;top:474.50px;font-size:10.6px;line-height:10.6px;color:#b9e34c;font-weight:normal;transform-origin:0 0;transform:scaleX(0.8986);-webkit-text-stroke:0.45px #b9e34c;">01.</div>
<div class="t" id="r1" style="left:617.74px;top:148.70px;font-size:12.6px;line-height:12.6px;color:#fff;font-weight:normal;transform-origin:0 0;transform:scaleX(1.0418);-webkit-text-stroke:0.45px #fff;">Worker Resiliency &amp;</div>
<div class="t" id="r2" style="left:614.64px;top:162.70px;font-size:12.6px;line-height:12.6px;color:#fff;font-weight:normal;transform-origin:0 0;transform:scaleX(1.0701);-webkit-text-stroke:0.45px #fff;">Well-Being Initiatives</div>
<div class="t" id="c1" style="left:674.45px;top:226.95px;font-size:8.7px;line-height:8.7px;color:#fff;font-weight:normal;transform-origin:0 0;transform:scaleX(1.1849);-webkit-text-stroke:0.35px #fff;">Innovation &amp;</div>
<div class="t" id="c2" style="left:672.47px;top:237.35px;font-size:8.7px;line-height:8.7px;color:#fff;font-weight:normal;transform-origin:0 0;transform:scaleX(1.2018);-webkit-text-stroke:0.35px #fff;">Collaboration</div>
<div class="t" id="e1" style="left:555.18px;top:265.40px;font-size:13.4px;line-height:13.4px;color:#fff;font-weight:normal;transform-origin:0 0;transform:scaleX(1.0222);-webkit-text-stroke:0.45px #fff;">Ergonomics</div>
<div class="t" id="m1" style="left:745.88px;top:266.70px;font-size:12.8px;line-height:12.8px;color:#fff;font-weight:normal;transform-origin:0 0;transform:scaleX(1.0647);-webkit-text-stroke:0.45px #fff;">MSD Medical</div>
<div class="t" id="m2" style="left:745.36px;top:280.50px;font-size:12.8px;line-height:12.8px;color:#fff;font-weight:normal;transform-origin:0 0;transform:scaleX(1.0861);-webkit-text-stroke:0.45px #fff;">Management</div>
<div class="t" id="eb1" style="left:537.06px;top:290.75px;font-size:9.9px;line-height:9.9px;color:#f2faf4;font-weight:normal;transform-origin:0 0;transform:scaleX(0.9248);-webkit-text-stroke:0.2px #f2faf4;">Identify and address <span style="color:#d8e337;-webkit-text-stroke:0.35px #d8e337">existing</span></div>
<div class="t" id="eb2" style="left:537.08px;top:303.35px;font-size:9.9px;line-height:9.9px;color:#f2faf4;font-weight:normal;transform-origin:0 0;transform:scaleX(0.8896);-webkit-text-stroke:0.2px #f2faf4;">MSD hazards and risks</div>
<div class="t" id="eb3" style="left:537.16px;top:322.55px;font-size:9.9px;line-height:9.9px;color:#f2faf4;font-weight:normal;transform-origin:0 0;transform:scaleX(0.9146);-webkit-text-stroke:0.2px #f2faf4;">Prevent introduction of <span style="color:#d8e337;-webkit-text-stroke:0.35px #d8e337">new</span></div>
<div class="t" id="eb4" style="left:537.08px;top:334.95px;font-size:9.9px;line-height:9.9px;color:#f2faf4;font-weight:normal;transform-origin:0 0;transform:scaleX(0.8896);-webkit-text-stroke:0.2px #f2faf4;">MSD hazards and risks</div>
<svg width="870" height="522" viewBox="0 0 870 522" fill="#f2faf4"><circle cx="534.3" cy="296.2" r="0.95"/><circle cx="534.3" cy="328" r="0.95"/><circle cx="731.1" cy="310.3" r="0.9"/><circle cx="731.1" cy="324.3" r="0.9"/><circle cx="731.1" cy="338.1" r="0.9"/></svg>
<div class="t" id="mb1" style="left:733.83px;top:305.85px;font-size:8.3px;line-height:8.3px;color:#f2faf4;font-weight:normal;transform-origin:0 0;transform:scaleX(0.9900);-webkit-text-stroke:0.2px #f2faf4;">Early Detection &amp; Intervention</div>
<div class="t" id="mb2" style="left:733.83px;top:319.85px;font-size:8.3px;line-height:8.3px;color:#f2faf4;font-weight:normal;transform-origin:0 0;transform:scaleX(0.9859);-webkit-text-stroke:0.2px #f2faf4;">Diagnosis &amp; Treatment</div>
<div class="t" id="mb3" style="left:733.83px;top:333.65px;font-size:8.3px;line-height:8.3px;color:#f2faf4;font-weight:normal;transform-origin:0 0;transform:scaleX(0.9847);-webkit-text-stroke:0.2px #f2faf4;">Return to Work</div>
<div class="t" id="bx2" style="left:512.81px;top:427.00px;font-size:11.2px;line-height:11.2px;color:#fff;font-weight:normal;transform-origin:0 0;transform:scaleX(1.0801);-webkit-text-stroke:0.45px #fff;">Leadership Commitment</div>
<div class="t" id="bx3" style="left:718.95px;top:427.00px;font-size:11.2px;line-height:11.2px;color:#fff;font-weight:normal;transform-origin:0 0;transform:scaleX(1.0645);-webkit-text-stroke:0.45px #fff;">Worker Engagement</div>
<div class="t" id="bx1" style="left:545.62px;top:486.70px;font-size:12px;line-height:12px;color:#fff;font-weight:normal;transform-origin:0 0;transform:scaleX(1.1185);-webkit-text-stroke:0.45px #fff;">Culture that Values Worker Health &amp; Safety</div>

</div>
</body></html>
